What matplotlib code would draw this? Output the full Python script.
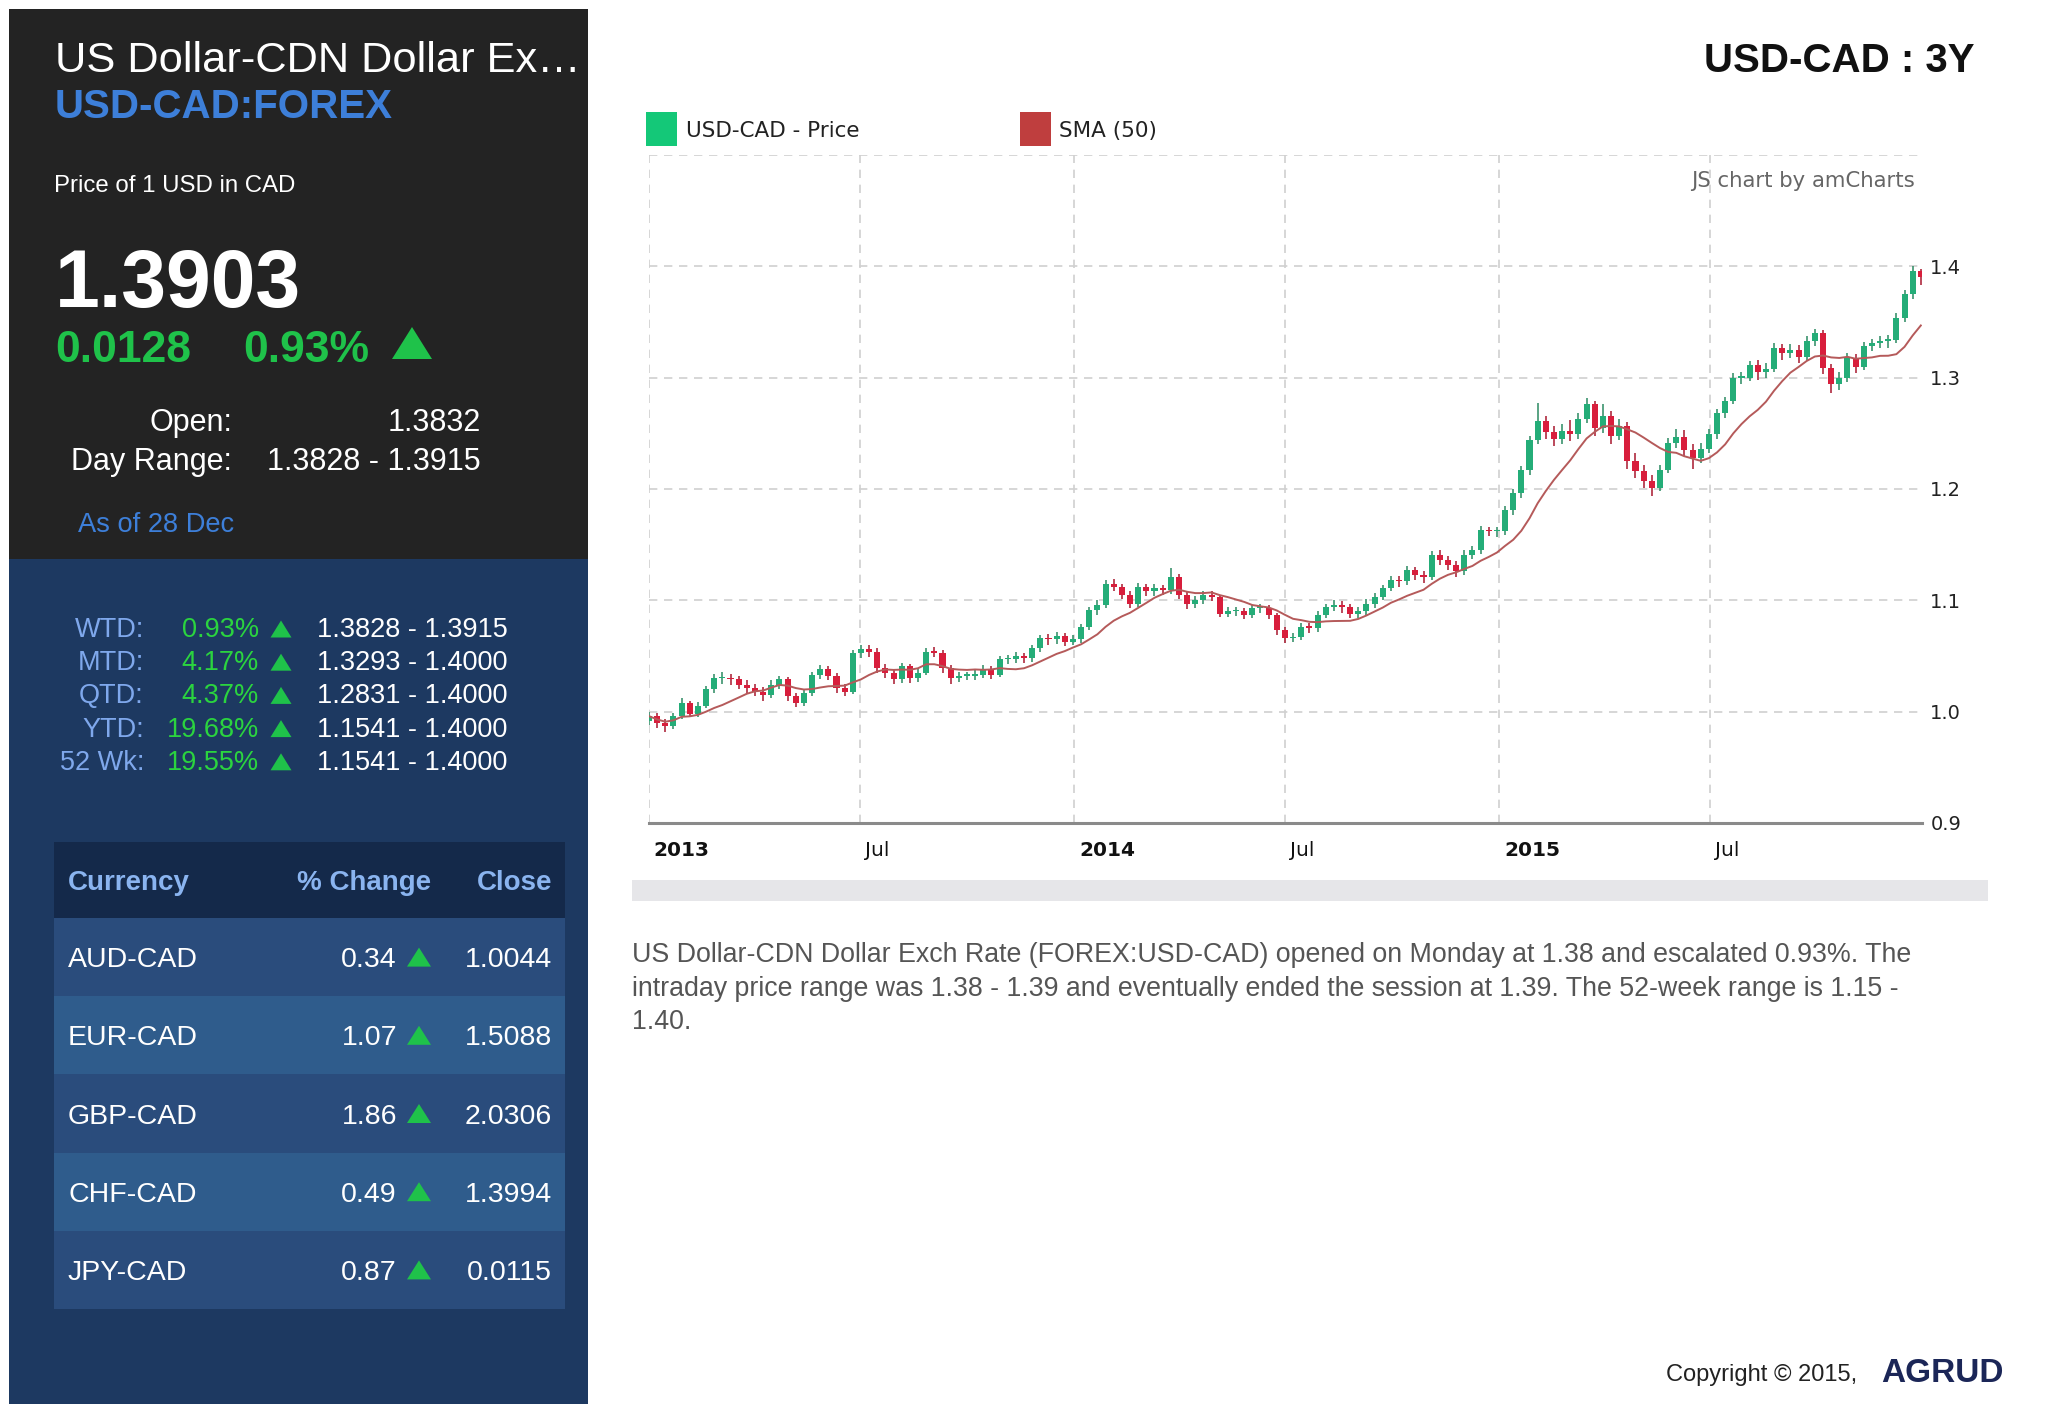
import numpy as np
import pandas as pd
import matplotlib
matplotlib.use('Agg')
import matplotlib.pyplot as plt
import matplotlib.dates as mdates
from matplotlib.patches import Rectangle, Polygon

plt.rcParams['font.family'] = ['Liberation Sans', 'DejaVu Sans']

## weekly USD-CAD candles (Jan 2013 - Dec 2015)
week_start = '2013-01-01'
first_open = 0.992
closes = [0.996, 0.990, 0.987, 0.996, 1.008, 0.998, 1.005, 1.020, 1.030, 1.030,
          1.029, 1.024, 1.021, 1.018, 1.015, 1.024, 1.029, 1.014, 1.008, 1.017,
          1.033, 1.038, 1.032, 1.021, 1.018, 1.053, 1.056, 1.054, 1.039, 1.035,
          1.029, 1.041, 1.030, 1.035, 1.054, 1.053, 1.039, 1.030, 1.032, 1.032,
          1.033, 1.038, 1.033, 1.047, 1.047, 1.050, 1.048, 1.057, 1.066, 1.065,
          1.068, 1.063, 1.065, 1.076, 1.091, 1.096, 1.115, 1.112, 1.105, 1.097,
          1.112, 1.108, 1.111, 1.109, 1.121, 1.105, 1.097, 1.100, 1.105, 1.103,
          1.088, 1.090, 1.090, 1.087, 1.093, 1.093, 1.087, 1.073, 1.066, 1.067,
          1.076, 1.075, 1.087, 1.094, 1.096, 1.094, 1.088, 1.090, 1.097, 1.103,
          1.111, 1.118, 1.117, 1.127, 1.123, 1.121, 1.141, 1.136, 1.132, 1.126,
          1.141, 1.145, 1.163, 1.162, 1.162, 1.181, 1.196, 1.217, 1.244, 1.261,
          1.251, 1.245, 1.252, 1.249, 1.263, 1.276, 1.255, 1.266, 1.248, 1.257,
          1.225, 1.216, 1.207, 1.201, 1.217, 1.241, 1.247, 1.235, 1.228, 1.236,
          1.249, 1.268, 1.279, 1.300, 1.300, 1.311, 1.305, 1.308, 1.327, 1.322,
          1.325, 1.319, 1.333, 1.340, 1.309, 1.294, 1.300, 1.318, 1.310, 1.328,
          1.331, 1.333, 1.334, 1.354, 1.375, 1.396, 1.390]
highs = [1.000, 0.999, 0.993, 0.999, 1.012, 1.010, 1.009, 1.023, 1.034, 1.036,
         1.034, 1.032, 1.028, 1.025, 1.022, 1.028, 1.032, 1.031, 1.017, 1.020,
         1.036, 1.042, 1.041, 1.035, 1.025, 1.055, 1.060, 1.060, 1.057, 1.043,
         1.038, 1.044, 1.043, 1.039, 1.057, 1.058, 1.055, 1.042, 1.036, 1.036,
         1.037, 1.042, 1.041, 1.050, 1.051, 1.054, 1.053, 1.060, 1.069, 1.070,
         1.072, 1.071, 1.069, 1.079, 1.094, 1.100, 1.118, 1.119, 1.115, 1.108,
         1.116, 1.115, 1.115, 1.114, 1.129, 1.124, 1.108, 1.104, 1.108, 1.108,
         1.105, 1.094, 1.094, 1.093, 1.096, 1.097, 1.096, 1.089, 1.076, 1.071,
         1.080, 1.080, 1.090, 1.097, 1.100, 1.099, 1.097, 1.094, 1.101, 1.107,
         1.114, 1.122, 1.122, 1.131, 1.130, 1.126, 1.144, 1.145, 1.140, 1.135,
         1.145, 1.149, 1.167, 1.166, 1.166, 1.185, 1.200, 1.221, 1.248, 1.277,
         1.266, 1.257, 1.258, 1.262, 1.268, 1.282, 1.279, 1.276, 1.270, 1.263,
         1.260, 1.232, 1.222, 1.213, 1.222, 1.246, 1.254, 1.253, 1.240, 1.241,
         1.254, 1.272, 1.283, 1.304, 1.305, 1.315, 1.316, 1.313, 1.331, 1.330,
         1.330, 1.329, 1.337, 1.344, 1.343, 1.312, 1.305, 1.322, 1.321, 1.332,
         1.335, 1.337, 1.338, 1.358, 1.379, 1.400, 1.398]
lows = [0.988, 0.985, 0.982, 0.984, 0.993, 0.995, 0.995, 1.003, 1.017, 1.025,
        1.024, 1.020, 1.016, 1.014, 1.010, 1.012, 1.020, 1.010, 1.004, 1.005,
        1.014, 1.029, 1.028, 1.017, 1.014, 1.016, 1.048, 1.049, 1.035, 1.030,
        1.025, 1.026, 1.026, 1.027, 1.033, 1.049, 1.035, 1.025, 1.027, 1.028,
        1.028, 1.030, 1.029, 1.031, 1.043, 1.044, 1.044, 1.045, 1.054, 1.060,
        1.061, 1.059, 1.060, 1.062, 1.073, 1.087, 1.093, 1.108, 1.101, 1.093,
        1.094, 1.104, 1.104, 1.105, 1.106, 1.101, 1.092, 1.093, 1.097, 1.099,
        1.085, 1.085, 1.086, 1.083, 1.084, 1.089, 1.083, 1.069, 1.062, 1.063,
        1.064, 1.071, 1.072, 1.084, 1.090, 1.089, 1.084, 1.084, 1.087, 1.093,
        1.100, 1.108, 1.112, 1.114, 1.118, 1.116, 1.118, 1.132, 1.127, 1.121,
        1.123, 1.137, 1.142, 1.158, 1.157, 1.159, 1.177, 1.192, 1.213, 1.240,
        1.245, 1.239, 1.240, 1.243, 1.245, 1.259, 1.248, 1.250, 1.240, 1.244,
        1.218, 1.210, 1.201, 1.194, 1.198, 1.214, 1.237, 1.230, 1.218, 1.223,
        1.232, 1.245, 1.264, 1.276, 1.294, 1.297, 1.298, 1.300, 1.305, 1.316,
        1.318, 1.313, 1.315, 1.328, 1.303, 1.286, 1.289, 1.296, 1.304, 1.307,
        1.324, 1.327, 1.327, 1.331, 1.350, 1.371, 1.383]
sma_window = 10  # 50 trading days ~ 10 weeks

y_ticks = [0.9, 1.0, 1.1, 1.2, 1.3, 1.4, 1.5]
y_tick_labels = ['0.9', '1.0', '1.1', '1.2', '1.3', '1.4', '']
x_ticks = ['2013-01-01', '2013-07-01', '2014-01-01', '2014-07-01', '2015-01-01', '2015-07-01']
x_tick_labels = ['2013', 'Jul', '2014', 'Jul', '2015', 'Jul']

## left panel figures
stats_labels = ['WTD:', 'MTD:', 'QTD:', 'YTD:', '52 Wk:']
stats_pct = ['0.93%', '4.17%', '4.37%', '19.68%', '19.55%']
stats_range = ['1.3828 - 1.3915', '1.3293 - 1.4000', '1.2831 - 1.4000',
               '1.1541 - 1.4000', '1.1541 - 1.4000']
pairs = ['AUD-CAD', 'EUR-CAD', 'GBP-CAD', 'CHF-CAD', 'JPY-CAD']
pair_change = ['0.34', '1.07', '1.86', '0.49', '0.87']
pair_close = ['1.0044', '1.5088', '2.0306', '1.3994', '0.0115']

desc_lines = ['US Dollar-CDN Dollar Exch Rate (FOREX:USD-CAD) opened on Monday at 1.38 and escalated 0.93%. The',
              'intraday price range was 1.38 - 1.39 and eventually ended the session at 1.39. The 52-week range is 1.15 -',
              '1.40.']

W, H = 2048, 1413
GREEN = '#1fc24a'
fig = plt.figure(figsize=(W / 100, H / 100), dpi=100)

## background layer in pixel coordinates
bg = fig.add_axes([0, 0, 1, 1])
bg.set_xlim(0, W)
bg.set_ylim(H, 0)
bg.axis('off')


def txt(x, y, s, size, color='white', weight='normal', ha='left', family=None):
    kw = {} if family is None else {'family': family}
    bg.text(x, y, s, fontsize=size, color=color, fontweight=weight, ha=ha, va='baseline', **kw)


def tri(cx, cy, w, h, color=GREEN):
    bg.add_patch(Polygon([[cx - w / 2, cy + h / 2], [cx + w / 2, cy + h / 2], [cx, cy - h / 2]],
                         closed=True, color=color, lw=0))


bg.add_patch(Rectangle((9, 9), 579, 550, color='#232323', lw=0))
bg.add_patch(Rectangle((9, 559), 579, 845, color='#1d3961', lw=0))

txt(55, 72, 'US Dollar-CDN Dollar Ex\u2026', 31.2)
txt(55, 118, 'USD-CAD:FOREX', 29, color='#3d7fd9', weight='bold')
txt(54, 192, 'Price of 1 USD in CAD', 17.3)
txt(55, 307, '1.3903', 58, weight='bold')
txt(55, 362, '0.0128', 32, color=GREEN, weight='bold')
txt(243, 362, '0.93%', 32, color=GREEN, weight='bold')
tri(412, 343, 40, 32)
txt(232, 431, 'Open:', 22, ha='right')
txt(481, 431, '1.3832', 22, ha='right')
txt(232, 470, 'Day Range:', 22, ha='right')
txt(481, 470, '1.3828 - 1.3915', 22, ha='right')
txt(78, 532, 'As of 28 Dec', 19.6, color='#3d7fd9')

## period stats
for k, (lab, pct, rng) in enumerate(zip(stats_labels, stats_pct, stats_range)):
    yb = 637 + k * 33.2
    txt(144, yb, lab, 19.5, color='#7fa8ec', ha='right')
    txt(259, yb, pct, 19.5, color='#2bd43f', ha='right')
    tri(281, yb - 8, 21, 17)
    txt(317, yb, rng, 19.5)

## currency table
bg.add_patch(Rectangle((54, 842), 511, 76, color='#14294a', lw=0))
txt(68, 890, 'Currency', 20, color='#8ab4f0', weight='bold')
txt(431, 890, '% Change', 20, color='#8ab4f0', weight='bold', ha='right')
txt(552, 890, 'Close', 20, color='#8ab4f0', weight='bold', ha='right')
row_h = 78.2
for k, (p, ch, cl) in enumerate(zip(pairs, pair_change, pair_close)):
    y0 = 918 + k * row_h
    bg.add_patch(Rectangle((54, y0), 511, row_h, color='#2a4c7c' if k % 2 == 0 else '#2f5c8c', lw=0))
    yb = y0 + row_h / 2 + 10
    txt(68, yb, p, 20.5)
    txt(397, yb, ch, 20.5, ha='right')
    tri(419, yb - 10, 24, 19)
    txt(552, yb, cl, 20.5, ha='right')

## right side texts
txt(1975, 72, 'USD-CAD : 3Y', 29, color='#111111', weight='bold', ha='right')
bg.add_patch(Rectangle((646, 112), 31, 34, color='#14c878', lw=0))
txt(686, 137, 'USD-CAD - Price', 15.5, color='#222222', family='DejaVu Sans')
bg.add_patch(Rectangle((1020, 112), 31, 34, color='#bf3e3e', lw=0))
txt(1059, 137, 'SMA (50)', 15.5, color='#222222', family='DejaVu Sans')
txt(1915, 187, 'JS chart by amCharts', 15.3, color='#666666', ha='right', family='DejaVu Sans')
bg.add_patch(Rectangle((632, 880), 1356, 21, color='#e6e6e9', lw=0))
for k, line in enumerate(desc_lines):
    txt(632, 962 + k * 33.5, line, 19.3, color='#555555')
txt(1857, 1381, 'Copyright \u00a9 2015,', 17, color='#222222', ha='right')
txt(1881, 1382, 'AGRUD', 24, color='#1b2657', weight='bold')

## price chart
ax = fig.add_axes([649 / W, 1 - 823 / H, (1922 - 649) / W, (823 - 155) / H])
ax.set_facecolor('none')
dates = pd.date_range(week_start, periods=len(closes), freq='7D')
xs = mdates.date2num(dates.to_pydatetime())
c = np.array(closes)
o = np.array([first_open] + closes[:-1])
up = c >= o
body_col = np.where(up, '#24ad78', '#d81e3c')
wick_col = np.where(up, '#2b8a62', '#a8182e')
ax.vlines(xs, lows, highs, colors=wick_col, lw=1.1, zorder=3)
ax.bar(xs, np.maximum(np.abs(c - o), 0.0015), bottom=np.minimum(o, c), width=5.2,
       color=body_col, lw=0, zorder=4)
sma = pd.Series(closes).rolling(sma_window, min_periods=1).mean()
ax.plot(xs, sma, color='#b55a5a', lw=1.4, zorder=5)

ax.set_xlim(mdates.date2num(pd.Timestamp('2013-01-01')), mdates.date2num(pd.Timestamp('2015-12-30')))
ax.set_ylim(0.9, 1.5)
ax.set_yticks(y_ticks)
ax.set_yticklabels(y_tick_labels, fontfamily='DejaVu Sans', fontsize=14, color='#222222')
ax.yaxis.tick_right()
ax.tick_params(axis='y', length=0, pad=6)
xt = [mdates.date2num(pd.Timestamp(d)) for d in x_ticks]
ax.set_xticks(xt)
ax.set_xticklabels([])
ax.tick_params(axis='x', length=0)
ax.grid(True, color='#d0d0d0', lw=1.2, ls=(0, (5, 4)))
for s in ['top', 'left', 'right']:
    ax.spines[s].set_visible(False)
ax.spines['bottom'].set_color('#8a8a8a')
ax.spines['bottom'].set_linewidth(2.2)
for x, lbl in zip(xt, x_tick_labels):
    ax.annotate(lbl, xy=(x, 0), xycoords=('data', 'axes fraction'), xytext=(3.5, -19.5),
                textcoords='offset points', ha='left', va='center', fontsize=14.5,
                fontweight='normal' if lbl == 'Jul' else 'bold', fontfamily='DejaVu Sans',
                color='#111111')

fig.savefig('out.png', dpi=100)
